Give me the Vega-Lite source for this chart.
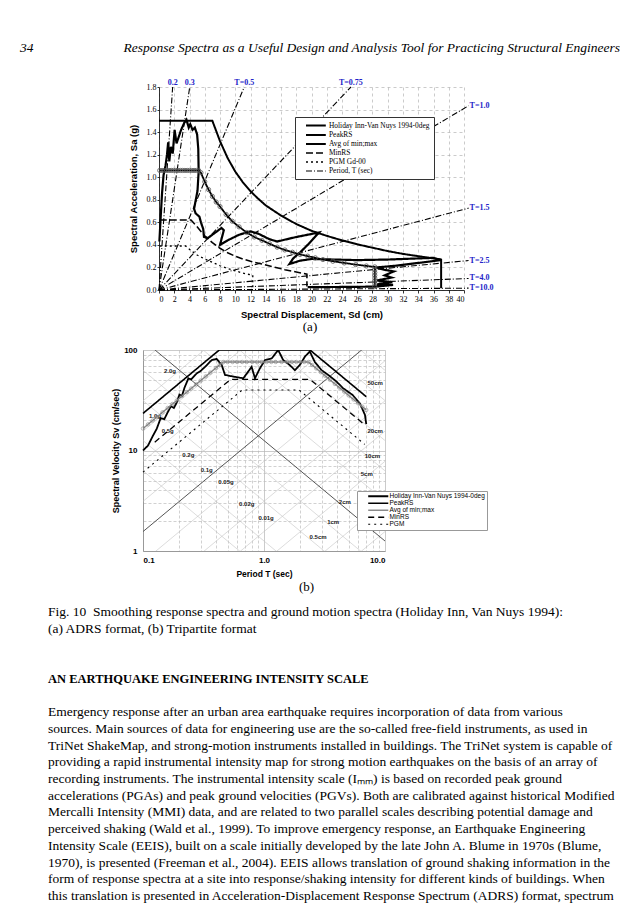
{
  "$schema": "https://vega.github.io/schema/vega-lite/v6.json",
  "padding": {"left": 20, "top": 0, "right": 0, "bottom": 0},
  "background": "white",
  "spacing": 0,
  "bounds": "flush",
  "resolve": {
    "scale": {"strokeDash": "independent", "strokeWidth": "independent", "stroke": "independent"},
    "legend": {"strokeDash": "independent", "strokeWidth": "independent", "stroke": "independent"}
  },
  "config": {"view": {"stroke": null}},
  "datasets": {
    "adrs": [
      {"series":"Holiday Inn-Van Nuys 1994-0deg","sd":0.05,"sa":0.43},
      {"series":"Holiday Inn-Van Nuys 1994-0deg","sd":0.2,"sa":0.62},
      {"series":"Holiday Inn-Van Nuys 1994-0deg","sd":0.4,"sa":0.86},
      {"series":"Holiday Inn-Van Nuys 1994-0deg","sd":0.6,"sa":1.02},
      {"series":"Holiday Inn-Van Nuys 1994-0deg","sd":0.85,"sa":1.1},
      {"series":"Holiday Inn-Van Nuys 1994-0deg","sd":1.05,"sa":1.2},
      {"series":"Holiday Inn-Van Nuys 1994-0deg","sd":1.2,"sa":1.31},
      {"series":"Holiday Inn-Van Nuys 1994-0deg","sd":1.35,"sa":1.14},
      {"series":"Holiday Inn-Van Nuys 1994-0deg","sd":1.55,"sa":1.27},
      {"series":"Holiday Inn-Van Nuys 1994-0deg","sd":1.8,"sa":1.21},
      {"series":"Holiday Inn-Van Nuys 1994-0deg","sd":2.05,"sa":1.42},
      {"series":"Holiday Inn-Van Nuys 1994-0deg","sd":2.3,"sa":1.3},
      {"series":"Holiday Inn-Van Nuys 1994-0deg","sd":2.6,"sa":1.36},
      {"series":"Holiday Inn-Van Nuys 1994-0deg","sd":2.9,"sa":1.42},
      {"series":"Holiday Inn-Van Nuys 1994-0deg","sd":3.3,"sa":1.48},
      {"series":"Holiday Inn-Van Nuys 1994-0deg","sd":3.6,"sa":1.51},
      {"series":"Holiday Inn-Van Nuys 1994-0deg","sd":3.9,"sa":1.44},
      {"series":"Holiday Inn-Van Nuys 1994-0deg","sd":4.1,"sa":1.47},
      {"series":"Holiday Inn-Van Nuys 1994-0deg","sd":4.4,"sa":1.42},
      {"series":"Holiday Inn-Van Nuys 1994-0deg","sd":4.7,"sa":1.44},
      {"series":"Holiday Inn-Van Nuys 1994-0deg","sd":5.0,"sa":1.38},
      {"series":"Holiday Inn-Van Nuys 1994-0deg","sd":5.15,"sa":1.25},
      {"series":"Holiday Inn-Van Nuys 1994-0deg","sd":5.2,"sa":1.05},
      {"series":"Holiday Inn-Van Nuys 1994-0deg","sd":5.05,"sa":0.88},
      {"series":"Holiday Inn-Van Nuys 1994-0deg","sd":4.6,"sa":0.72},
      {"series":"Holiday Inn-Van Nuys 1994-0deg","sd":4.8,"sa":0.68},
      {"series":"Holiday Inn-Van Nuys 1994-0deg","sd":5.3,"sa":0.65},
      {"series":"Holiday Inn-Van Nuys 1994-0deg","sd":5.5,"sa":0.6},
      {"series":"Holiday Inn-Van Nuys 1994-0deg","sd":5.8,"sa":0.54},
      {"series":"Holiday Inn-Van Nuys 1994-0deg","sd":5.9,"sa":0.47},
      {"series":"Holiday Inn-Van Nuys 1994-0deg","sd":6.4,"sa":0.46},
      {"series":"Holiday Inn-Van Nuys 1994-0deg","sd":7.0,"sa":0.49},
      {"series":"Holiday Inn-Van Nuys 1994-0deg","sd":7.6,"sa":0.52},
      {"series":"Holiday Inn-Van Nuys 1994-0deg","sd":8.2,"sa":0.55},
      {"series":"Holiday Inn-Van Nuys 1994-0deg","sd":8.5,"sa":0.53},
      {"series":"Holiday Inn-Van Nuys 1994-0deg","sd":8.0,"sa":0.4},
      {"series":"Holiday Inn-Van Nuys 1994-0deg","sd":9.0,"sa":0.44},
      {"series":"Holiday Inn-Van Nuys 1994-0deg","sd":10.5,"sa":0.49},
      {"series":"Holiday Inn-Van Nuys 1994-0deg","sd":12.0,"sa":0.52},
      {"series":"Holiday Inn-Van Nuys 1994-0deg","sd":13.0,"sa":0.5},
      {"series":"Holiday Inn-Van Nuys 1994-0deg","sd":14.5,"sa":0.45},
      {"series":"Holiday Inn-Van Nuys 1994-0deg","sd":15.5,"sa":0.43},
      {"series":"Holiday Inn-Van Nuys 1994-0deg","sd":18.0,"sa":0.47},
      {"series":"Holiday Inn-Van Nuys 1994-0deg","sd":21.0,"sa":0.51},
      {"series":"Holiday Inn-Van Nuys 1994-0deg","sd":19.5,"sa":0.4},
      {"series":"Holiday Inn-Van Nuys 1994-0deg","sd":18.6,"sa":0.34},
      {"series":"Holiday Inn-Van Nuys 1994-0deg","sd":17.6,"sa":0.28},
      {"series":"Holiday Inn-Van Nuys 1994-0deg","sd":17.1,"sa":0.23},
      {"series":"Holiday Inn-Van Nuys 1994-0deg","sd":18.5,"sa":0.26},
      {"series":"Holiday Inn-Van Nuys 1994-0deg","sd":20.0,"sa":0.275},
      {"series":"Holiday Inn-Van Nuys 1994-0deg","sd":23.0,"sa":0.27},
      {"series":"Holiday Inn-Van Nuys 1994-0deg","sd":26.0,"sa":0.265},
      {"series":"Holiday Inn-Van Nuys 1994-0deg","sd":30.0,"sa":0.27},
      {"series":"Holiday Inn-Van Nuys 1994-0deg","sd":34.0,"sa":0.28},
      {"series":"Holiday Inn-Van Nuys 1994-0deg","sd":36.0,"sa":0.285},
      {"series":"Holiday Inn-Van Nuys 1994-0deg","sd":37.0,"sa":0.265},
      {"series":"Holiday Inn-Van Nuys 1994-0deg","sd":34.0,"sa":0.24},
      {"series":"Holiday Inn-Van Nuys 1994-0deg","sd":31.0,"sa":0.215},
      {"series":"Holiday Inn-Van Nuys 1994-0deg","sd":28.5,"sa":0.2},
      {"series":"Holiday Inn-Van Nuys 1994-0deg","sd":29.5,"sa":0.18},
      {"series":"Holiday Inn-Van Nuys 1994-0deg","sd":30.8,"sa":0.165},
      {"series":"Holiday Inn-Van Nuys 1994-0deg","sd":29.6,"sa":0.13},
      {"series":"Holiday Inn-Van Nuys 1994-0deg","sd":30.5,"sa":0.11},
      {"series":"Holiday Inn-Van Nuys 1994-0deg","sd":28.6,"sa":0.085},
      {"series":"Holiday Inn-Van Nuys 1994-0deg","sd":30.6,"sa":0.07},
      {"series":"Holiday Inn-Van Nuys 1994-0deg","sd":28.6,"sa":0.05},
      {"series":"Holiday Inn-Van Nuys 1994-0deg","sd":30.7,"sa":0.045},
      {"series":"Holiday Inn-Van Nuys 1994-0deg","sd":28.4,"sa":0.03},
      {"series":"Holiday Inn-Van Nuys 1994-0deg","sd":24.0,"sa":0.027},
      {"series":"Holiday Inn-Van Nuys 1994-0deg","sd":19.5,"sa":0.025},
      {"series":"PeakRS","sd":0,"sa":1.5},
      {"series":"PeakRS","sd":7.0,"sa":1.5},
      {"series":"PeakRS","sd":7.5,"sa":1.41},
      {"series":"PeakRS","sd":8.0,"sa":1.32},
      {"series":"PeakRS","sd":9.0,"sa":1.17},
      {"series":"PeakRS","sd":10.0,"sa":1.05},
      {"series":"PeakRS","sd":11.0,"sa":0.955},
      {"series":"PeakRS","sd":12.0,"sa":0.875},
      {"series":"PeakRS","sd":13.0,"sa":0.81},
      {"series":"PeakRS","sd":14.0,"sa":0.75},
      {"series":"PeakRS","sd":16.0,"sa":0.66},
      {"series":"PeakRS","sd":18.0,"sa":0.585},
      {"series":"PeakRS","sd":20.0,"sa":0.525},
      {"series":"PeakRS","sd":22.0,"sa":0.48},
      {"series":"PeakRS","sd":24.0,"sa":0.44},
      {"series":"PeakRS","sd":26.0,"sa":0.405},
      {"series":"PeakRS","sd":28.0,"sa":0.375},
      {"series":"PeakRS","sd":30.0,"sa":0.345},
      {"series":"PeakRS","sd":32.0,"sa":0.32},
      {"series":"PeakRS","sd":34.0,"sa":0.3},
      {"series":"PeakRS","sd":36.0,"sa":0.28},
      {"series":"PeakRS","sd":37.0,"sa":0.27},
      {"series":"PeakRS","sd":37.0,"sa":0.015},
      {"series":"Avg of min;max","sd":0.1,"sa":1.06},
      {"series":"Avg of min;max","sd":0.4,"sa":1.06},
      {"series":"Avg of min;max","sd":0.7,"sa":1.06},
      {"series":"Avg of min;max","sd":1.0,"sa":1.06},
      {"series":"Avg of min;max","sd":1.3,"sa":1.06},
      {"series":"Avg of min;max","sd":1.6,"sa":1.06},
      {"series":"Avg of min;max","sd":1.9,"sa":1.06},
      {"series":"Avg of min;max","sd":2.2,"sa":1.06},
      {"series":"Avg of min;max","sd":2.5,"sa":1.06},
      {"series":"Avg of min;max","sd":2.8,"sa":1.06},
      {"series":"Avg of min;max","sd":3.1,"sa":1.06},
      {"series":"Avg of min;max","sd":3.4,"sa":1.06},
      {"series":"Avg of min;max","sd":3.7,"sa":1.06},
      {"series":"Avg of min;max","sd":4.0,"sa":1.06},
      {"series":"Avg of min;max","sd":4.3,"sa":1.06},
      {"series":"Avg of min;max","sd":4.6,"sa":1.06},
      {"series":"Avg of min;max","sd":4.9,"sa":1.06},
      {"series":"Avg of min;max","sd":5.2,"sa":1.06},
      {"series":"Avg of min;max","sd":5.5,"sa":1.04},
      {"series":"Avg of min;max","sd":6.0,"sa":0.96},
      {"series":"Avg of min;max","sd":6.5,"sa":0.89},
      {"series":"Avg of min;max","sd":7.0,"sa":0.83},
      {"series":"Avg of min;max","sd":7.5,"sa":0.78},
      {"series":"Avg of min;max","sd":8.0,"sa":0.74},
      {"series":"Avg of min;max","sd":8.8,"sa":0.67},
      {"series":"Avg of min;max","sd":9.6,"sa":0.61},
      {"series":"Avg of min;max","sd":10.5,"sa":0.56},
      {"series":"Avg of min;max","sd":11.5,"sa":0.51},
      {"series":"Avg of min;max","sd":12.5,"sa":0.47},
      {"series":"Avg of min;max","sd":13.5,"sa":0.44},
      {"series":"Avg of min;max","sd":14.5,"sa":0.41},
      {"series":"Avg of min;max","sd":15.5,"sa":0.38},
      {"series":"Avg of min;max","sd":16.5,"sa":0.355},
      {"series":"Avg of min;max","sd":17.5,"sa":0.335},
      {"series":"Avg of min;max","sd":18.5,"sa":0.315},
      {"series":"Avg of min;max","sd":19.5,"sa":0.3},
      {"series":"Avg of min;max","sd":20.5,"sa":0.285},
      {"series":"Avg of min;max","sd":21.5,"sa":0.27},
      {"series":"Avg of min;max","sd":22.8,"sa":0.255},
      {"series":"Avg of min;max","sd":24.3,"sa":0.24},
      {"series":"Avg of min;max","sd":25.8,"sa":0.225},
      {"series":"Avg of min;max","sd":27.2,"sa":0.213},
      {"series":"Avg of min;max","sd":28.3,"sa":0.205},
      {"series":"Avg of min;max","sd":28.3,"sa":0.18},
      {"series":"Avg of min;max","sd":28.3,"sa":0.155},
      {"series":"Avg of min;max","sd":28.3,"sa":0.13},
      {"series":"Avg of min;max","sd":28.3,"sa":0.105},
      {"series":"Avg of min;max","sd":28.3,"sa":0.08},
      {"series":"Avg of min;max","sd":28.3,"sa":0.055},
      {"series":"Avg of min;max","sd":28.3,"sa":0.03},
      {"series":"MinRS","sd":0.1,"sa":0.62},
      {"series":"MinRS","sd":4.2,"sa":0.62},
      {"series":"MinRS","sd":5.0,"sa":0.56},
      {"series":"MinRS","sd":6.0,"sa":0.48},
      {"series":"MinRS","sd":7.0,"sa":0.42},
      {"series":"MinRS","sd":8.0,"sa":0.37},
      {"series":"MinRS","sd":9.0,"sa":0.33},
      {"series":"MinRS","sd":10.0,"sa":0.3},
      {"series":"MinRS","sd":11.0,"sa":0.275},
      {"series":"MinRS","sd":12.0,"sa":0.255},
      {"series":"MinRS","sd":13.5,"sa":0.23},
      {"series":"MinRS","sd":15.0,"sa":0.205},
      {"series":"MinRS","sd":16.5,"sa":0.18},
      {"series":"MinRS","sd":18.0,"sa":0.16},
      {"series":"MinRS","sd":19.4,"sa":0.14},
      {"series":"MinRS","sd":19.4,"sa":0.03},
      {"series":"PGM Gd-00","sd":0.1,"sa":0.39},
      {"series":"PGM Gd-00","sd":3.5,"sa":0.39},
      {"series":"PGM Gd-00","sd":4.2,"sa":0.35},
      {"series":"PGM Gd-00","sd":5.0,"sa":0.31},
      {"series":"PGM Gd-00","sd":6.0,"sa":0.275},
      {"series":"PGM Gd-00","sd":7.0,"sa":0.245},
      {"series":"PGM Gd-00","sd":8.0,"sa":0.215},
      {"series":"PGM Gd-00","sd":9.0,"sa":0.19},
      {"series":"PGM Gd-00","sd":10.0,"sa":0.17},
      {"series":"PGM Gd-00","sd":11.0,"sa":0.15},
      {"series":"PGM Gd-00","sd":12.3,"sa":0.13},
      {"series":"PGM Gd-00","sd":12.3,"sa":0.0},
      {"series":"Period, T (sec)","line":"T=0.2","sd":0,"sa":0},
      {"series":"Period, T (sec)","line":"T=0.2","sd":1.79,"sa":1.8},
      {"series":"Period, T (sec)","line":"T=0.3","sd":0,"sa":0},
      {"series":"Period, T (sec)","line":"T=0.3","sd":4.03,"sa":1.8},
      {"series":"Period, T (sec)","line":"T=0.5","sd":0,"sa":0},
      {"series":"Period, T (sec)","line":"T=0.5","sd":11.18,"sa":1.8},
      {"series":"Period, T (sec)","line":"T=0.75","sd":0,"sa":0},
      {"series":"Period, T (sec)","line":"T=0.75","sd":25.17,"sa":1.8},
      {"series":"Period, T (sec)","line":"T=1.0","sd":0,"sa":0},
      {"series":"Period, T (sec)","line":"T=1.0","sd":40.6,"sa":1.634},
      {"series":"Period, T (sec)","line":"T=1.5","sd":0,"sa":0},
      {"series":"Period, T (sec)","line":"T=1.5","sd":40.6,"sa":0.726},
      {"series":"Period, T (sec)","line":"T=2.5","sd":0,"sa":0},
      {"series":"Period, T (sec)","line":"T=2.5","sd":40.6,"sa":0.261},
      {"series":"Period, T (sec)","line":"T=4.0","sd":0,"sa":0},
      {"series":"Period, T (sec)","line":"T=4.0","sd":40.6,"sa":0.102},
      {"series":"Period, T (sec)","line":"T=10.0","sd":0,"sa":0},
      {"series":"Period, T (sec)","line":"T=10.0","sd":40.6,"sa":0.0163}
    ],
    "adrsLabels": [
      {"label":"0.2","side":"top","sd":1.79,"sa":1.8},
      {"label":"0.3","side":"top","sd":4.03,"sa":1.8},
      {"label":"T=0.5","side":"top","sd":11.18,"sa":1.8},
      {"label":"T=0.75","side":"top","sd":25.17,"sa":1.8},
      {"label":"T=1.0","side":"right","sd":40.6,"sa":1.634},
      {"label":"T=1.5","side":"right","sd":40.6,"sa":0.726},
      {"label":"T=2.5","side":"right","sd":40.6,"sa":0.261},
      {"label":"T=4.0","side":"right","sd":40.6,"sa":0.102},
      {"label":"T=10.0","side":"right","sd":40.6,"sa":0.0163}
    ],
    "tri": [
      {"series":"Holiday Inn-Van Nuys 1994-0deg","T":0.1,"sv":10.0},
      {"series":"Holiday Inn-Van Nuys 1994-0deg","T":0.11,"sv":11.2},
      {"series":"Holiday Inn-Van Nuys 1994-0deg","T":0.12,"sv":13.8},
      {"series":"Holiday Inn-Van Nuys 1994-0deg","T":0.13,"sv":16.5},
      {"series":"Holiday Inn-Van Nuys 1994-0deg","T":0.14,"sv":21.0},
      {"series":"Holiday Inn-Van Nuys 1994-0deg","T":0.15,"sv":20.5},
      {"series":"Holiday Inn-Van Nuys 1994-0deg","T":0.16,"sv":24.0},
      {"series":"Holiday Inn-Van Nuys 1994-0deg","T":0.17,"sv":27.5},
      {"series":"Holiday Inn-Van Nuys 1994-0deg","T":0.18,"sv":26.5},
      {"series":"Holiday Inn-Van Nuys 1994-0deg","T":0.19,"sv":30.0},
      {"series":"Holiday Inn-Van Nuys 1994-0deg","T":0.2,"sv":36.0},
      {"series":"Holiday Inn-Van Nuys 1994-0deg","T":0.21,"sv":35.0},
      {"series":"Holiday Inn-Van Nuys 1994-0deg","T":0.22,"sv":42.0},
      {"series":"Holiday Inn-Van Nuys 1994-0deg","T":0.237,"sv":52.0},
      {"series":"Holiday Inn-Van Nuys 1994-0deg","T":0.25,"sv":51.0},
      {"series":"Holiday Inn-Van Nuys 1994-0deg","T":0.278,"sv":58.5},
      {"series":"Holiday Inn-Van Nuys 1994-0deg","T":0.3,"sv":62.0},
      {"series":"Holiday Inn-Van Nuys 1994-0deg","T":0.326,"sv":68.0},
      {"series":"Holiday Inn-Van Nuys 1994-0deg","T":0.37,"sv":79.5},
      {"series":"Holiday Inn-Van Nuys 1994-0deg","T":0.406,"sv":81.5},
      {"series":"Holiday Inn-Van Nuys 1994-0deg","T":0.447,"sv":71.0},
      {"series":"Holiday Inn-Van Nuys 1994-0deg","T":0.476,"sv":56.5},
      {"series":"Holiday Inn-Van Nuys 1994-0deg","T":0.557,"sv":54.4},
      {"series":"Holiday Inn-Van Nuys 1994-0deg","T":0.674,"sv":52.3},
      {"series":"Holiday Inn-Van Nuys 1994-0deg","T":0.74,"sv":60.9},
      {"series":"Holiday Inn-Van Nuys 1994-0deg","T":0.79,"sv":68.0},
      {"series":"Holiday Inn-Van Nuys 1994-0deg","T":0.842,"sv":52.3},
      {"series":"Holiday Inn-Van Nuys 1994-0deg","T":0.925,"sv":65.7},
      {"series":"Holiday Inn-Van Nuys 1994-0deg","T":1.02,"sv":79.5},
      {"series":"Holiday Inn-Van Nuys 1994-0deg","T":1.16,"sv":82.7},
      {"series":"Holiday Inn-Van Nuys 1994-0deg","T":1.31,"sv":100},
      {"series":"Holiday Inn-Van Nuys 1994-0deg","T":1.44,"sv":79.5},
      {"series":"Holiday Inn-Van Nuys 1994-0deg","T":1.63,"sv":71.0},
      {"series":"Holiday Inn-Van Nuys 1994-0deg","T":1.8,"sv":63.0},
      {"series":"Holiday Inn-Van Nuys 1994-0deg","T":1.98,"sv":71.0},
      {"series":"Holiday Inn-Van Nuys 1994-0deg","T":2.18,"sv":86.0},
      {"series":"Holiday Inn-Van Nuys 1994-0deg","T":2.39,"sv":96.7},
      {"series":"Holiday Inn-Van Nuys 1994-0deg","T":2.63,"sv":76.0},
      {"series":"Holiday Inn-Van Nuys 1994-0deg","T":2.99,"sv":63.0},
      {"series":"Holiday Inn-Van Nuys 1994-0deg","T":3.39,"sv":56.5},
      {"series":"Holiday Inn-Van Nuys 1994-0deg","T":3.98,"sv":48.4},
      {"series":"Holiday Inn-Van Nuys 1994-0deg","T":4.52,"sv":41.5},
      {"series":"Holiday Inn-Van Nuys 1994-0deg","T":5.4,"sv":35.7},
      {"series":"Holiday Inn-Van Nuys 1994-0deg","T":6.2,"sv":29.4},
      {"series":"Holiday Inn-Van Nuys 1994-0deg","T":6.83,"sv":22.6},
      {"series":"Holiday Inn-Van Nuys 1994-0deg","T":7.0,"sv":18.3},
      {"series":"PeakRS","T":0.1,"sv":23.4},
      {"series":"PeakRS","T":0.427,"sv":100},
      {"series":"PeakRS","T":2.4,"sv":100},
      {"series":"PeakRS","T":7.0,"sv":34.3},
      {"series":"Avg of min;max","T":0.1,"sv":16.55},
      {"series":"Avg of min;max","T":0.11,"sv":18.2},
      {"series":"Avg of min;max","T":0.12,"sv":19.86},
      {"series":"Avg of min;max","T":0.13,"sv":21.5},
      {"series":"Avg of min;max","T":0.145,"sv":24.0},
      {"series":"Avg of min;max","T":0.16,"sv":26.5},
      {"series":"Avg of min;max","T":0.175,"sv":29.0},
      {"series":"Avg of min;max","T":0.19,"sv":31.4},
      {"series":"Avg of min;max","T":0.21,"sv":34.8},
      {"series":"Avg of min;max","T":0.23,"sv":38.1},
      {"series":"Avg of min;max","T":0.25,"sv":41.4},
      {"series":"Avg of min;max","T":0.275,"sv":45.5},
      {"series":"Avg of min;max","T":0.3,"sv":49.7},
      {"series":"Avg of min;max","T":0.33,"sv":54.6},
      {"series":"Avg of min;max","T":0.36,"sv":59.6},
      {"series":"Avg of min;max","T":0.4,"sv":66.2},
      {"series":"Avg of min;max","T":0.43,"sv":71.2},
      {"series":"Avg of min;max","T":0.46,"sv":76},
      {"series":"Avg of min;max","T":0.5,"sv":76},
      {"series":"Avg of min;max","T":0.55,"sv":76},
      {"series":"Avg of min;max","T":0.6,"sv":76},
      {"series":"Avg of min;max","T":0.66,"sv":76},
      {"series":"Avg of min;max","T":0.72,"sv":76},
      {"series":"Avg of min;max","T":0.8,"sv":76},
      {"series":"Avg of min;max","T":0.88,"sv":76},
      {"series":"Avg of min;max","T":0.96,"sv":76},
      {"series":"Avg of min;max","T":1.05,"sv":76},
      {"series":"Avg of min;max","T":1.15,"sv":76},
      {"series":"Avg of min;max","T":1.25,"sv":76},
      {"series":"Avg of min;max","T":1.4,"sv":76},
      {"series":"Avg of min;max","T":1.55,"sv":76},
      {"series":"Avg of min;max","T":1.7,"sv":76},
      {"series":"Avg of min;max","T":1.85,"sv":76},
      {"series":"Avg of min;max","T":2.0,"sv":76},
      {"series":"Avg of min;max","T":2.15,"sv":76},
      {"series":"Avg of min;max","T":2.33,"sv":76},
      {"series":"Avg of min;max","T":2.5,"sv":70.9},
      {"series":"Avg of min;max","T":2.7,"sv":65.6},
      {"series":"Avg of min;max","T":2.95,"sv":60.1},
      {"series":"Avg of min;max","T":3.2,"sv":55.4},
      {"series":"Avg of min;max","T":3.5,"sv":50.6},
      {"series":"Avg of min;max","T":3.85,"sv":46.0},
      {"series":"Avg of min;max","T":4.2,"sv":42.2},
      {"series":"Avg of min;max","T":4.6,"sv":38.5},
      {"series":"Avg of min;max","T":5.0,"sv":35.4},
      {"series":"Avg of min;max","T":5.5,"sv":32.2},
      {"series":"Avg of min;max","T":6.0,"sv":29.5},
      {"series":"Avg of min;max","T":6.5,"sv":27.3},
      {"series":"Avg of min;max","T":7.0,"sv":25.3},
      {"series":"MinRS","T":0.125,"sv":12.1},
      {"series":"MinRS","T":0.53,"sv":51},
      {"series":"MinRS","T":2.4,"sv":51},
      {"series":"MinRS","T":6.8,"sv":18.0},
      {"series":"PGM","T":0.1,"sv":6.1},
      {"series":"PGM","T":0.66,"sv":40},
      {"series":"PGM","T":1.95,"sv":40},
      {"series":"PGM","T":6.8,"sv":11.5}
    ],
    "diag": [
      {"name":"0.001g","weight":"light","T":0.1,"sv":0.0156},{"name":"0.001g","weight":"light","T":10,"sv":1.56},
      {"name":"0.002g","weight":"light","T":0.1,"sv":0.0312},{"name":"0.002g","weight":"light","T":10,"sv":3.12},
      {"name":"0.005g","weight":"light","T":0.1,"sv":0.078},{"name":"0.005g","weight":"light","T":10,"sv":7.81},
      {"name":"0.01g","weight":"light","T":0.1,"sv":0.156},{"name":"0.01g","weight":"light","T":10,"sv":15.6},
      {"name":"0.02g","weight":"light","T":0.1,"sv":0.312},{"name":"0.02g","weight":"light","T":10,"sv":31.2},
      {"name":"0.05g","weight":"light","T":0.1,"sv":0.781},{"name":"0.05g","weight":"light","T":10,"sv":78.1},
      {"name":"0.1g","weight":"dark","T":0.1,"sv":1.561},{"name":"0.1g","weight":"dark","T":10,"sv":156.1},
      {"name":"0.2g","weight":"light","T":0.1,"sv":3.12},{"name":"0.2g","weight":"light","T":10,"sv":312},
      {"name":"0.5g","weight":"light","T":0.1,"sv":7.81},{"name":"0.5g","weight":"light","T":10,"sv":781},
      {"name":"1g","weight":"light","T":0.1,"sv":15.61},{"name":"1g","weight":"light","T":10,"sv":1561},
      {"name":"2g","weight":"light","T":0.1,"sv":31.2},{"name":"2g","weight":"light","T":10,"sv":3123},
      {"name":"5g","weight":"light","T":0.1,"sv":78.1},{"name":"5g","weight":"light","T":10,"sv":7807},
      {"name":"0.1cm","weight":"light","T":0.1,"sv":6.28},{"name":"0.1cm","weight":"light","T":10,"sv":0.0628},
      {"name":"0.2cm","weight":"light","T":0.1,"sv":12.57},{"name":"0.2cm","weight":"light","T":10,"sv":0.1257},
      {"name":"0.5cm","weight":"light","T":0.1,"sv":31.4},{"name":"0.5cm","weight":"light","T":10,"sv":0.314},
      {"name":"1cm","weight":"light","T":0.1,"sv":62.8},{"name":"1cm","weight":"light","T":10,"sv":0.628},
      {"name":"2cm","weight":"dark","T":0.1,"sv":125.7},{"name":"2cm","weight":"dark","T":10,"sv":1.257},
      {"name":"5cm","weight":"light","T":0.1,"sv":314},{"name":"5cm","weight":"light","T":10,"sv":3.14},
      {"name":"10cm","weight":"light","T":0.1,"sv":628},{"name":"10cm","weight":"light","T":10,"sv":6.28},
      {"name":"20cm","weight":"light","T":0.1,"sv":1257},{"name":"20cm","weight":"light","T":10,"sv":12.57},
      {"name":"50cm","weight":"light","T":0.1,"sv":3142},{"name":"50cm","weight":"light","T":10,"sv":31.4},
      {"name":"100cm","weight":"light","T":0.1,"sv":6283},{"name":"100cm","weight":"light","T":10,"sv":62.8}
    ],
    "diagLabels": [
      {"label":"2.0g","T":0.167,"sv":61.9},
      {"label":"1.0g","T":0.1257,"sv":22},
      {"label":"0.5g","T":0.16,"sv":15.8},
      {"label":"0.2g","T":0.237,"sv":9.0},
      {"label":"0.1g","T":0.336,"sv":6.4},
      {"label":"0.05g","T":0.485,"sv":4.9},
      {"label":"0.02g","T":0.72,"sv":2.91},
      {"label":"0.01g","T":1.04,"sv":2.11},
      {"label":"50cm","T":8.3,"sv":46.5},
      {"label":"20cm","T":8.3,"sv":15.8},
      {"label":"10cm","T":7.87,"sv":8.9},
      {"label":"5cm","T":7.06,"sv":5.84},
      {"label":"2cm","T":4.66,"sv":3.09},
      {"label":"1cm","T":3.73,"sv":1.96},
      {"label":"0.5cm","T":2.8,"sv":1.37}
    ],
    "page": [
      {"line":0,"kind":"caption","text":"Fig. 10\u00a0\u00a0Smoothing response spectra and ground motion spectra (Holiday Inn, Van Nuys 1994):"},
      {"line":1,"kind":"caption","text":"\u00a0\u00a0\u00a0\u00a0\u00a0\u00a0\u00a0\u00a0\u00a0\u00a0\u00a0\u00a0\u00a0(a) ADRS format, (b) Tripartite format"},
      {"line":4,"kind":"heading","text":"AN EARTHQUAKE ENGINEERING INTENSITY SCALE"},
      {"line":6,"kind":"para","text":"\u00a0\u00a0\u00a0\u00a0\u00a0\u00a0\u00a0Emergency response after an urban area earthquake requires incorporation of data from various"},
      {"line":7,"kind":"para","text":"sources. Main sources of data for engineering use are the so-called free-field instruments, as used in"},
      {"line":8,"kind":"para","text":"TriNet ShakeMap, and strong-motion instruments installed in buildings. The TriNet system is capable of"},
      {"line":9,"kind":"para","text":"providing a rapid instrumental intensity map for strong motion earthquakes on the basis of an array of"},
      {"line":10,"kind":"para","text":"recording instruments. The instrumental intensity scale (Iₘₘ) is based on recorded peak ground"},
      {"line":11,"kind":"para","text":"accelerations (PGAs) and peak ground velocities (PGVs). Both are calibrated against historical Modified"},
      {"line":12,"kind":"para","text":"Mercalli Intensity (MMI) data, and are related to two parallel scales describing potential damage and"},
      {"line":13,"kind":"para","text":"perceived shaking (Wald et al., 1999). To improve emergency response, an Earthquake Engineering"},
      {"line":14,"kind":"para","text":"Intensity Scale (EEIS), built on a scale initially developed by the late John A. Blume in 1970s (Blume,"},
      {"line":15,"kind":"para","text":"1970), is presented (Freeman et al., 2004). EEIS allows translation of ground shaking information in the"},
      {"line":16,"kind":"para","text":"form of response spectra at a site into response/shaking intensity for different kinds of buildings. When"},
      {"line":17,"kind":"para","text":"this translation is presented in Acceleration-Displacement Response Spectrum (ADRS) format, spectrum"}
    ]
  },
  "vconcat": [
    {
      "width": 600, "height": 87,
      "data": {"values": [
        {"part": "page number", "text": "34"},
        {"part": "running head", "text": "Response Spectra as a Useful Design and Analysis Tool for Practicing Structural Engineers"}
      ]},
      "layer": [
        {
          "transform": [{"filter": "datum.part === 'page number'"}],
          "mark": {"type": "text", "align": "left", "baseline": "middle", "font": "Liberation Serif", "fontStyle": "italic", "fontSize": 13.5, "color": "black", "dy": 4.5},
          "encoding": {"x": {"value": 0}, "text": {"field": "text"}}
        },
        {
          "transform": [{"filter": "datum.part === 'running head'"}],
          "mark": {"type": "text", "align": "right", "baseline": "middle", "font": "Liberation Serif", "fontStyle": "italic", "fontSize": 13.5, "color": "black", "dy": 4.5},
          "encoding": {"x": {"value": "width"}, "text": {"field": "text"}}
        }
      ]
    },
    {
      "width": 444, "height": 203,
      "title": {"text": "(a)", "orient": "bottom", "frame": "group", "anchor": "middle", "dx": 68, "font": "Liberation Serif", "fontSize": 13, "fontWeight": "normal", "color": "black", "offset": 2},
      "layer": [
        {
          "data": {"name": "adrs"},
          "mark": {"type": "line", "color": "black", "strokeJoin": "miter", "clip": false},
          "encoding": {
            "x": {"field": "sd", "type": "quantitative", "scale": {"domain": [0, 40], "range": [139, 444], "nice": false, "zero": false},
              "axis": {"values": [0,2,4,6,8,10,12,14,16,18,20,22,24,26,28,30,32,34,36,38,40], "tickCount": 100, "format": "d", "title": "Spectral Displacement, Sd (cm)",
                "grid": true, "gridDash": [3, 3], "gridColor": "#a8a8a8", "gridWidth": 0.6, "domainColor": "black", "domainWidth": 0.8,
                "tickColor": "black", "tickSize": 3, "tickWidth": 0.8, "labelFont": "Liberation Serif", "labelFontSize": 8, "labelColor": "black", "labelPadding": 2,
                "titleFont": "Liberation Sans", "titleFontSize": 9.5, "titleFontWeight": "bold", "titleColor": "black", "titlePadding": 6, "labelOverlap": false}},
            "y": {"field": "sa", "type": "quantitative", "scale": {"domain": [0, 1.8], "nice": false, "zero": false},
              "axis": {"offset": -139, "values": [0,0.2,0.4,0.6,0.8,1.0,1.2,1.4,1.6,1.8], "tickCount": 100, "format": ".1f", "title": "Spectral Acceleration, Sa (g)",
                "grid": true, "gridDash": [3, 3], "gridColor": "#a8a8a8", "gridWidth": 0.6, "domainColor": "black", "domainWidth": 0.8,
                "tickColor": "black", "tickSize": 2, "tickWidth": 0.8, "labelFont": "Liberation Serif", "labelFontSize": 8, "labelColor": "black", "labelPadding": 1,
                "titleFont": "Liberation Sans", "titleFontSize": 9.5, "titleFontWeight": "bold", "titleColor": "black", "titlePadding": 8, "labelOverlap": false}},
            "detail": {"field": "line"},
            "order": {"value": null},
            "strokeDash": {"field": "series", "type": "nominal",
              "scale": {"domain": ["Holiday Inn-Van Nuys 1994-0deg", "PeakRS", "Avg of min;max", "MinRS", "PGM Gd-00", "Period, T (sec)"],
                        "range": [[1, 0], [1, 0], [1, 0], [7, 3], [2, 3], [6, 2, 1, 2]]},
              "legend": {"title": null, "orient": "top-right", "offset": 30, "symbolType": "M-3.3,0H3.3", "symbolSize": 36,
                "symbolOffset": 12.4, "labelOffset": 8.6, "symbolStrokeColor": "black", "labelFont": "Liberation Serif", "labelFontSize": 7.4, "labelColor": "black",
                "rowPadding": 1, "padding": 4, "strokeColor": "#333", "fillColor": "white", "labelLimit": 300}},
            "strokeWidth": {"field": "series", "type": "nominal",
              "scale": {"domain": ["Holiday Inn-Van Nuys 1994-0deg", "PeakRS", "Avg of min;max", "MinRS", "PGM Gd-00", "Period, T (sec)"],
                        "range": [2.2, 1.1, 2.0, 1.3, 1.6, 0.6]},
              "legend": {"title": null, "orient": "top-right", "offset": 30, "symbolType": "M-3.3,0H3.3", "symbolSize": 36,
                "symbolOffset": 12.4, "labelOffset": 8.6, "symbolStrokeColor": "black", "labelFont": "Liberation Serif", "labelFontSize": 7.4, "labelColor": "black",
                "rowPadding": 1, "padding": 4, "strokeColor": "#333", "fillColor": "white", "labelLimit": 300}}
          }
        },
        {
          "data": {"name": "adrs"},
          "transform": [{"filter": "datum.series === 'Avg of min;max'"}],
          "mark": {"type": "point", "shape": "circle", "filled": false, "stroke": "#555", "strokeWidth": 0.8, "size": 18, "opacity": 1},
          "encoding": {"x": {"field": "sd", "type": "quantitative"}, "y": {"field": "sa", "type": "quantitative"}}
        },
        {
          "data": {"name": "adrsLabels"},
          "transform": [{"filter": "datum.side === 'top'"}],
          "mark": {"type": "text", "align": "center", "baseline": "bottom", "font": "Liberation Serif", "fontWeight": "bold", "fontSize": 8, "color": "#2323c8"},
          "encoding": {"x": {"field": "sd", "type": "quantitative"}, "y": {"field": "sa", "type": "quantitative"}, "text": {"field": "label"}}
        },
        {
          "data": {"name": "adrsLabels"},
          "transform": [{"filter": "datum.side === 'right'"}],
          "mark": {"type": "text", "align": "left", "baseline": "middle", "font": "Liberation Serif", "fontWeight": "bold", "fontSize": 8, "color": "#2323c8", "dx": 1},
          "encoding": {"x": {"field": "sd", "type": "quantitative"}, "y": {"field": "sa", "type": "quantitative"}, "text": {"field": "label"}}
        }
      ]
    },
    {"width": 1, "height": 60, "data": {"values": []}, "mark": "point"},
    {
      "width": 365, "height": 201,
      "title": {"text": "(b)", "orient": "bottom", "frame": "group", "anchor": "middle", "dx": 104, "font": "Liberation Serif", "fontSize": 13, "fontWeight": "normal", "color": "black", "offset": 3},
      "layer": [
        {
          "data": {"name": "diag"},
          "transform": [{"filter": "datum.weight === 'light'"}],
          "mark": {"type": "line", "color": "#c4c4c4", "strokeWidth": 0.6, "clip": true},
          "encoding": {
            "x": {"field": "T", "type": "quantitative", "scale": {"type": "log", "domain": [0.1, 10], "range": [123, 365], "nice": false},
              "axis": {"values": [0.1,0.2,0.3,0.4,0.5,0.6,0.7,0.8,0.9,1,2,3,4,5,6,7,8,9,10], "tickCount": 100,
                "labelExpr": "datum.value == 0.1 || datum.value == 1 || datum.value == 10 ? format(datum.value, '.1f') : ''",
                "labelOverlap": false, "ticks": false, "grid": true,
                "gridColor": {"condition": {"test": "datum.value == 0.1 || datum.value == 1 || datum.value == 10", "value": "#b4b4b4"}, "value": "#bdbdbd"},
                "gridDash": {"condition": {"test": "datum.value == 0.1 || datum.value == 1 || datum.value == 10", "value": []}, "value": [3, 2]},
                "gridWidth": 0.7, "domainColor": "#999", "labelFont": "Liberation Sans", "labelFontWeight": "bold", "labelFontSize": 8, "labelColor": "black",
                "labelPadding": 5, "title": "Period T (sec)", "titleFont": "Liberation Sans", "titleFontSize": 8.5, "titleFontWeight": "bold", "titleColor": "black", "titlePadding": 5}},
            "y": {"field": "sv", "type": "quantitative", "scale": {"type": "log", "domain": [1, 100], "nice": false},
              "axis": {"offset": -123, "values": [1,2,3,4,5,6,7,8,9,10,20,30,40,50,60,70,80,90,100], "tickCount": 100,
                "labelExpr": "datum.value == 1 || datum.value == 10 || datum.value == 100 ? '' + datum.value : ''",
                "labelOverlap": false, "ticks": false, "grid": true,
                "gridColor": {"condition": {"test": "datum.value == 1 || datum.value == 10 || datum.value == 100", "value": "#b4b4b4"}, "value": "#bdbdbd"},
                "gridDash": {"condition": {"test": "datum.value == 1 || datum.value == 10 || datum.value == 100", "value": []}, "value": [3, 2]},
                "gridWidth": 0.7, "domainColor": "#999", "labelFont": "Liberation Sans", "labelFontWeight": "bold", "labelFontSize": 8, "labelColor": "black",
                "labelPadding": 6, "title": "Spectral Velocity Sv (cm/sec)", "titleFont": "Liberation Sans", "titleFontSize": 9, "titleFontWeight": "bold", "titleColor": "black", "titlePadding": 3}},
            "detail": {"field": "name"}
          }
        },
        {
          "data": {"name": "diag"},
          "transform": [{"filter": "datum.weight === 'dark'"}],
          "mark": {"type": "line", "color": "#555", "strokeWidth": 1.0, "clip": true},
          "encoding": {"x": {"field": "T", "type": "quantitative"}, "y": {"field": "sv", "type": "quantitative"}, "detail": {"field": "name"}}
        },
        {
          "data": {"name": "diagLabels"},
          "mark": {"type": "text", "font": "Liberation Sans", "fontWeight": "bold", "fontSize": 6, "color": "#222", "align": "center", "baseline": "middle"},
          "encoding": {"x": {"field": "T", "type": "quantitative"}, "y": {"field": "sv", "type": "quantitative"}, "text": {"field": "label"}}
        },
        {
          "data": {"name": "tri"},
          "mark": {"type": "line", "strokeJoin": "miter", "clip": true},
          "encoding": {
            "x": {"field": "T", "type": "quantitative"},
            "y": {"field": "sv", "type": "quantitative"},
            "order": {"value": null},
            "stroke": {"field": "series", "type": "nominal",
              "scale": {"domain": ["Holiday Inn-Van Nuys 1994-0deg", "PeakRS", "Avg of min;max", "MinRS", "PGM"], "range": ["black", "black", "#8a8a8a", "black", "black"]},
              "legend": {"title": null, "orient": "none", "legendX": 337, "legendY": 141, "symbolType": "M-6.7,0H6.7", "symbolSize": 9,
                "symbolOffset": 16, "labelOffset": 8, "labelFont": "Liberation Sans", "labelFontSize": 6.5, "labelColor": "black",
                "rowPadding": 0, "padding": 2, "strokeColor": "#999", "fillColor": "white", "labelLimit": 300}},
            "strokeDash": {"field": "series", "type": "nominal",
              "scale": {"domain": ["Holiday Inn-Van Nuys 1994-0deg", "PeakRS", "Avg of min;max", "MinRS", "PGM"], "range": [[1, 0], [1, 0], [1, 0], [6, 4], [2, 4]]},
              "legend": {"title": null, "orient": "none", "legendX": 337, "legendY": 141, "symbolType": "M-6.7,0H6.7", "symbolSize": 9,
                "symbolOffset": 16, "labelOffset": 8, "labelFont": "Liberation Sans", "labelFontSize": 6.5, "labelColor": "black",
                "rowPadding": 0, "padding": 2, "strokeColor": "#999", "fillColor": "white", "labelLimit": 300}},
            "strokeWidth": {"field": "series", "type": "nominal",
              "scale": {"domain": ["Holiday Inn-Van Nuys 1994-0deg", "PeakRS", "Avg of min;max", "MinRS", "PGM"], "range": [1.8, 1.1, 3.0, 1.3, 1.6]},
              "legend": {"title": null, "orient": "none", "legendX": 337, "legendY": 141, "symbolType": "M-6.7,0H6.7", "symbolSize": 9,
                "symbolOffset": 16, "labelOffset": 8, "labelFont": "Liberation Sans", "labelFontSize": 6.5, "labelColor": "black",
                "rowPadding": 0, "padding": 2, "strokeColor": "#999", "fillColor": "white", "labelLimit": 300}}
          }
        },
        {
          "data": {"name": "tri"},
          "transform": [{"filter": "datum.series === 'Avg of min;max'"}],
          "mark": {"type": "point", "shape": "circle", "filled": false, "stroke": "#6f6f6f", "strokeWidth": 0.7, "size": 12, "clip": true},
          "encoding": {"x": {"field": "T", "type": "quantitative"}, "y": {"field": "sv", "type": "quantitative"}}
        }
      ]
    },
    {"width": 1, "height": 61, "data": {"values": []}, "mark": "point"},
    {
      "width": 600, "height": 284,
      "data": {"name": "page"},
      "encoding": {
        "y": {"field": "line", "type": "quantitative", "scale": {"domain": [0, 17], "nice": false, "zero": false, "reverse": true}, "axis": null},
        "x": {"value": 28},
        "text": {"field": "text"}
      },
      "layer": [
        {"transform": [{"filter": "datum.kind === 'caption'"}], "mark": {"type": "text", "align": "left", "baseline": "middle", "font": "Liberation Serif", "fontSize": 13.5, "color": "black"}},
        {"transform": [{"filter": "datum.kind === 'heading'"}], "mark": {"type": "text", "align": "left", "baseline": "middle", "font": "Liberation Serif", "fontWeight": "bold", "fontSize": 12.5, "color": "black"}},
        {"transform": [{"filter": "datum.kind === 'para'"}], "mark": {"type": "text", "align": "left", "baseline": "middle", "font": "Liberation Serif", "fontSize": 13.5, "color": "black"}}
      ]
    }
  ]
}
